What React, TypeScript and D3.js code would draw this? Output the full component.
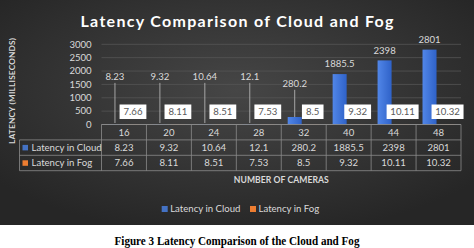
import React from "react";
import * as d3 from "d3";

const categories = ["16", "20", "24", "28", "32", "40", "44", "48"];
const cloudValues = [8.23, 9.32, 10.64, 12.1, 280.2, 1885.5, 2398, 2801];
const fogValues = [7.66, 8.11, 8.51, 7.53, 8.5, 9.32, 10.11, 10.32];
const yTicks = [0, 500, 1000, 1500, 2000, 2500, 3000];
const seriesNames = ["Latency in Cloud", "Latency in Fog"];
const seriesColors = ["#4472C4", "#ED7D31"];

const W = 474;
const H = 248;
const FONT = "Lato, 'Open Sans', sans-serif";

export default function App() {
  const plotLeft = 101.5;
  const plotRight = 461;
  const y = d3.scaleLinear().domain([0, 3000]).range([124.5, 44.3]);
  const x0 = d3.scaleBand<string>().domain(categories).range([plotLeft, plotRight]);
  const x1 = d3
    .scaleBand<string>()
    .domain(["cloud", "fog"])
    .range([0, x0.bandwidth()])
    .paddingInner(0.222)
    .paddingOuter(0.358);

  const base = y(0);
  const rowH = 15.4;
  const rows = [base, base + rowH, base + 2 * rowH, base + 3 * rowH];
  const keyLeft = 19.5;
  const textCol = "#d9d9d9";
  const tableLine = "#8c8c8c";
  const FS = 9.6;

  const fmt = (v: number) => String(v);

  return (
    <div style={{ position: "fixed", left: 0, top: 0 }}>
      <svg width={W} height={H} style={{ display: "block" }}>
        <defs>
          <radialGradient id="bg" cx="50%" cy="40%" r="65%">
            <stop offset="0%" stopColor="#464646" />
            <stop offset="100%" stopColor="#262626" />
          </radialGradient>
          <linearGradient id="barBlue" x1="0" y1="0" x2="1" y2="0">
            <stop offset="0%" stopColor="#5186e8" />
            <stop offset="100%" stopColor="#2f62c8" />
          </linearGradient>
        </defs>
        <rect x={0} y={0} width={W} height={H} fill="#ffffff" />
        <rect x={0} y={0} width={W} height={225} fill="url(#bg)" />

        {/* title */}
        <text
          x={237}
          y={27}
          textAnchor="middle"
          fill="#ffffff"
          fontFamily={FONT}
          fontWeight="bold"
          fontSize={16}
          textLength={313}
          lengthAdjust="spacing"
        >
          Latency Comparison of Cloud and Fog
        </text>

        {/* gridlines */}
        {yTicks.map((t) => (
          <line
            key={"g" + t}
            x1={plotLeft}
            x2={plotRight}
            y1={y(t)}
            y2={y(t)}
            stroke={t === 0 ? tableLine : "#555555"}
            strokeWidth={0.8}
          />
        ))}
        {yTicks.map((t) => (
          <text
            key={"t" + t}
            x={91.7}
            y={y(t) + 3.3}
            textAnchor="end"
            fill={textCol}
            fontFamily={FONT}
            fontSize={FS}
          >
            {t}
          </text>
        ))}

        {/* y axis title */}
        <text
          transform={`translate(15,91) rotate(-90)`}
          textAnchor="middle"
          fill={textCol}
          fontFamily={FONT}
          fontWeight="bold"
          fontSize={8.2}
          textLength={106}
          lengthAdjust="spacing"
        >
          LATENCY (MILLISECONDS)
        </text>

        {/* bars */}
        {categories.map((c, i) => {
          const bx = (x0(c) as number) + (x1("cloud") as number);
          const fx = (x0(c) as number) + (x1("fog") as number);
          return (
            <g key={"b" + c}>
              <rect
                x={bx}
                y={y(cloudValues[i])}
                width={x1.bandwidth()}
                height={base - y(cloudValues[i])}
                fill="url(#barBlue)"
              />
              <rect
                x={fx}
                y={y(fogValues[i])}
                width={x1.bandwidth()}
                height={base - y(fogValues[i])}
                fill={seriesColors[1]}
              />
            </g>
          );
        })}

        {/* cloud labels */}
        {categories.map((c, i) => {
          const v = cloudValues[i];
          const cx = (x0(c) as number) + (x1("cloud") as number) + x1.bandwidth() / 2;
          let cy: number;
          let leader = false;
          if (v < 100) {
            cy = y(1800);
            leader = true;
          } else if (v < 1000) {
            cy = y(v) - 33.7;
            leader = true;
          } else {
            cy = y(v) - 10;
          }
          return (
            <g key={"cl" + c}>
              {leader && (
                <line
                  x1={cx}
                  x2={cx}
                  y1={cy + 6.5}
                  y2={Math.min(y(v), base - 1.5)}
                  stroke="#bfbfbf"
                  strokeWidth={0.8}
                />
              )}
              <text
                x={cx}
                y={cy + 3.3}
                textAnchor="middle"
                fill={textCol}
                fontFamily={FONT}
                fontSize={FS}
              >
                {fmt(v)}
              </text>
            </g>
          );
        })}

        {/* fog labels in boxes */}
        {categories.map((c, i) => {
          const v = fogValues[i];
          const cx = (x0(c) as number) + (x1("fog") as number) + x1.bandwidth() / 2;
          const label = fmt(v);
          const w = label.length * 5.2 + 6;
          return (
            <g key={"fl" + c}>
              <rect x={cx - w / 2} y={104.5} width={w} height={14.5} fill="#ffffff" />
              <text
                x={cx}
                y={115.2}
                textAnchor="middle"
                fill="#595959"
                fontFamily={FONT}
                fontSize={FS}
              >
                {label}
              </text>
            </g>
          );
        })}

        {/* data table */}
        <g stroke={tableLine} strokeWidth={0.8} fill="none">
          <line x1={plotLeft} x2={plotRight} y1={rows[0]} y2={rows[0]} />
          <line x1={keyLeft} x2={plotRight} y1={rows[1]} y2={rows[1]} />
          <line x1={keyLeft} x2={plotRight} y1={rows[2]} y2={rows[2]} />
          <line x1={keyLeft} x2={plotRight} y1={rows[3]} y2={rows[3]} />
          <line x1={keyLeft} x2={keyLeft} y1={rows[1]} y2={rows[3]} />
          {categories.map((c) => (
            <line
              key={"v" + c}
              x1={x0(c) as number}
              x2={x0(c) as number}
              y1={rows[0]}
              y2={rows[3]}
            />
          ))}
          <line x1={plotRight} x2={plotRight} y1={rows[0]} y2={rows[3]} />
        </g>
        {categories.map((c, i) => {
          const cx = (x0(c) as number) + x0.bandwidth() / 2;
          return (
            <g
              key={"tc" + c}
              fill={textCol}
              fontFamily={FONT}
              fontSize={FS}
              textAnchor="middle"
            >
              <text x={cx} y={rows[0] + 11}>
                {c}
              </text>
              <text x={cx} y={rows[1] + 11}>
                {fmt(cloudValues[i])}
              </text>
              <text x={cx} y={rows[2] + 11}>
                {fmt(fogValues[i])}
              </text>
            </g>
          );
        })}
        {seriesNames.map((s, k) => (
          <g key={"tk" + s}>
            <rect
              x={22.5}
              y={rows[k + 1] + 5}
              width={5.5}
              height={5.5}
              fill={seriesColors[k]}
            />
            <text
              x={31.5}
              y={rows[k + 1] + 11}
              fill={textCol}
              fontFamily={FONT}
              fontSize={FS}
            >
              {s}
            </text>
          </g>
        ))}

        {/* x axis title */}
        <text
          x={(plotLeft + plotRight) / 2}
          y={183}
          textAnchor="middle"
          fill={textCol}
          fontFamily={FONT}
          fontWeight="bold"
          fontSize={8.6}
          textLength={95}
          lengthAdjust="spacing"
        >
          NUMBER OF CAMERAS
        </text>

        {/* legend */}
        {seriesNames.map((s, k) => {
          const lx = k === 0 ? 161.7 : 250;
          return (
            <g key={"lg" + s}>
              <rect x={lx} y={206} width={6} height={6} fill={seriesColors[k]} />
              <text
                x={lx + 8.5}
                y={212.4}
                fill={textCol}
                fontFamily={FONT}
                fontSize={FS}
              >
                {s}
              </text>
            </g>
          );
        })}

        {/* caption */}
        <text
          x={237}
          y={245}
          textAnchor="middle"
          fill="#000000"
          fontFamily="'Liberation Serif', 'Times New Roman', serif"
          fontWeight="bold"
          fontSize={11.5}
          textLength={245}
          lengthAdjust="spacingAndGlyphs"
        >
          Figure 3 Latency Comparison of the Cloud and Fog
        </text>
      </svg>
    </div>
  );
}
